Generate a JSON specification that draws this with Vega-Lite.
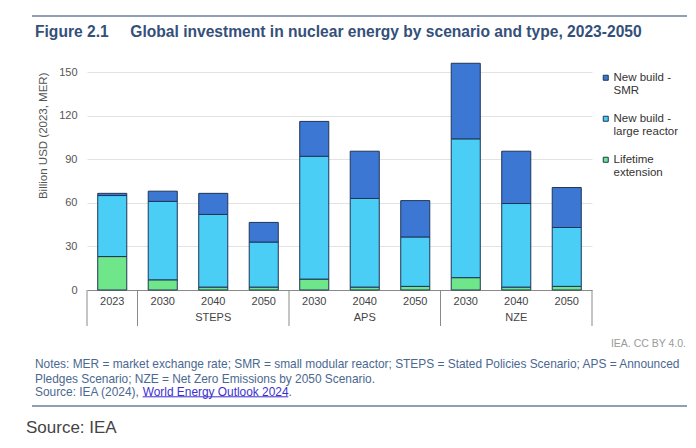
{
  "$schema": "https://vega.github.io/schema/vega-lite/v6.json",
  "autosize": {"type": "none"},
  "width": 505,
  "height": 218,
  "padding": {"left": 87, "right": 104, "top": 72, "bottom": 158},
  "background": "white",
  "config": {
    "font": "Liberation Sans",
    "view": {"stroke": null},
    "legend": {"labelFont": "Liberation Sans"}
  },
  "datasets": {
    "one": [{}],
    "invest": [
      {"cat": "2023", "scenario": "", "year": "2023", "type": "Lifetime extension", "value": 23},
      {"cat": "2023", "scenario": "", "year": "2023", "type": "New build - large reactor", "value": 42},
      {"cat": "2023", "scenario": "", "year": "2023", "type": "New build - SMR", "value": 1.5},
      {"cat": "STEPS 2030", "scenario": "STEPS", "year": "2030", "type": "Lifetime extension", "value": 7},
      {"cat": "STEPS 2030", "scenario": "STEPS", "year": "2030", "type": "New build - large reactor", "value": 54},
      {"cat": "STEPS 2030", "scenario": "STEPS", "year": "2030", "type": "New build - SMR", "value": 7},
      {"cat": "STEPS 2040", "scenario": "STEPS", "year": "2040", "type": "Lifetime extension", "value": 2},
      {"cat": "STEPS 2040", "scenario": "STEPS", "year": "2040", "type": "New build - large reactor", "value": 50},
      {"cat": "STEPS 2040", "scenario": "STEPS", "year": "2040", "type": "New build - SMR", "value": 14.5},
      {"cat": "STEPS 2050", "scenario": "STEPS", "year": "2050", "type": "Lifetime extension", "value": 2},
      {"cat": "STEPS 2050", "scenario": "STEPS", "year": "2050", "type": "New build - large reactor", "value": 31},
      {"cat": "STEPS 2050", "scenario": "STEPS", "year": "2050", "type": "New build - SMR", "value": 13.5},
      {"cat": "APS 2030", "scenario": "APS", "year": "2030", "type": "Lifetime extension", "value": 7.5},
      {"cat": "APS 2030", "scenario": "APS", "year": "2030", "type": "New build - large reactor", "value": 84.5},
      {"cat": "APS 2030", "scenario": "APS", "year": "2030", "type": "New build - SMR", "value": 24},
      {"cat": "APS 2040", "scenario": "APS", "year": "2040", "type": "Lifetime extension", "value": 2},
      {"cat": "APS 2040", "scenario": "APS", "year": "2040", "type": "New build - large reactor", "value": 61},
      {"cat": "APS 2040", "scenario": "APS", "year": "2040", "type": "New build - SMR", "value": 32.5},
      {"cat": "APS 2050", "scenario": "APS", "year": "2050", "type": "Lifetime extension", "value": 2.5},
      {"cat": "APS 2050", "scenario": "APS", "year": "2050", "type": "New build - large reactor", "value": 34},
      {"cat": "APS 2050", "scenario": "APS", "year": "2050", "type": "New build - SMR", "value": 25},
      {"cat": "NZE 2030", "scenario": "NZE", "year": "2030", "type": "Lifetime extension", "value": 8.5},
      {"cat": "NZE 2030", "scenario": "NZE", "year": "2030", "type": "New build - large reactor", "value": 95.5},
      {"cat": "NZE 2030", "scenario": "NZE", "year": "2030", "type": "New build - SMR", "value": 52},
      {"cat": "NZE 2040", "scenario": "NZE", "year": "2040", "type": "Lifetime extension", "value": 2},
      {"cat": "NZE 2040", "scenario": "NZE", "year": "2040", "type": "New build - large reactor", "value": 57.5},
      {"cat": "NZE 2040", "scenario": "NZE", "year": "2040", "type": "New build - SMR", "value": 36},
      {"cat": "NZE 2050", "scenario": "NZE", "year": "2050", "type": "Lifetime extension", "value": 2.5},
      {"cat": "NZE 2050", "scenario": "NZE", "year": "2050", "type": "New build - large reactor", "value": 40.5},
      {"cat": "NZE 2050", "scenario": "NZE", "year": "2050", "type": "New build - SMR", "value": 27.5}
    ]
  },
  "data": {"name": "invest"},
  "layer": [
    {
      "transform": [
        {"calculate": "indexof(['Lifetime extension','New build - large reactor','New build - SMR'], datum.type)", "as": "rank"}
      ],
      "mark": {"type": "bar", "width": {"band": 0.575}, "stroke": "#1f3556", "strokeWidth": 1},
      "encoding": {
        "x": {
          "field": "cat", "type": "nominal", "sort": null,
          "scale": {"paddingInner": 0, "paddingOuter": 0},
          "axis": {
            "title": null, "labelAngle": 0, "ticks": false,
            "domainColor": "#8a8a8a", "domainWidth": 1,
            "labelExpr": "substring(datum.label, length(datum.label) - 4)",
            "labelFontSize": 11, "labelColor": "#444444", "labelPadding": 5,
            "labelFont": "Liberation Sans"
          }
        },
        "y": {
          "field": "value", "type": "quantitative", "stack": "zero",
          "scale": {"domain": [0, 150], "nice": false},
          "axis": {
            "title": "Billion USD (2023, MER)", "titleAnchor": "end",
            "titleFontSize": 11.5, "titleFontWeight": "normal", "titleColor": "#555555",
            "titleFont": "Liberation Sans", "titlePadding": 10,
            "values": [0, 30, 60, 90, 120, 150],
            "domain": false, "ticks": false,
            "labelFontSize": 11, "labelColor": "#555555", "labelPadding": 10,
            "labelFont": "Liberation Sans",
            "gridColor": "#e3e3e3", "gridWidth": 1
          }
        },
        "color": {
          "field": "type", "type": "nominal",
          "scale": {
            "domain": ["New build - SMR", "New build - large reactor", "Lifetime extension"],
            "range": ["#3d77d4", "#4acef6", "#70e68b"]
          },
          "legend": {
            "title": null, "orient": "right", "offset": 8, "padding": 0,
            "symbolType": "square", "symbolSize": 25,
            "symbolStrokeColor": "#1f3556", "symbolStrokeWidth": 1,
            "labelFontSize": 11.5, "labelColor": "#333333", "labelLimit": 200,
            "labelBaseline": "middle", "labelOffset": 2, "rowPadding": 15,
            "labelExpr": "datum.label == 'New build - SMR' ? ['New build -', 'SMR'] : datum.label == 'New build - large reactor' ? ['New build -', 'large reactor'] : ['Lifetime', 'extension']"
          }
        },
        "order": {"field": "rank", "type": "quantitative"}
      }
    },
    {
      "transform": [{"filter": "datum.type == 'Lifetime extension' && (datum.year == '2030' || datum.year == '2023')"}],
      "mark": {"type": "rule", "color": "#8a8a8a", "strokeWidth": 1, "y2Offset": 36},
      "encoding": {
        "x": {"field": "cat", "type": "nominal", "sort": null, "bandPosition": 0},
        "y": {"datum": 0},
        "y2": {"datum": 0}
      }
    },
    {
      "transform": [{"filter": "datum.type == 'Lifetime extension' && datum.cat == 'NZE 2050'"}],
      "mark": {"type": "rule", "color": "#8a8a8a", "strokeWidth": 1, "y2Offset": 36},
      "encoding": {
        "x": {"field": "cat", "type": "nominal", "sort": null, "bandPosition": 1},
        "y": {"datum": 0},
        "y2": {"datum": 0}
      }
    },
    {
      "transform": [{"filter": "datum.type == 'Lifetime extension' && datum.year == '2040'"}],
      "mark": {"type": "text", "dy": 28, "fontSize": 11, "color": "#444444", "baseline": "middle", "font": "Liberation Sans"},
      "encoding": {
        "x": {"field": "cat", "type": "nominal", "sort": null},
        "y": {"datum": 0},
        "text": {"field": "scenario"}
      }
    },
    {
      "data": {"name": "one"},
      "mark": {"type": "rule", "color": "#6d7f98", "strokeWidth": 1.6, "yOffset": -56, "xOffset": -55, "x2Offset": 95},
      "encoding": {
        "x": {"datum": "2023", "bandPosition": 0},
        "x2": {"datum": "NZE 2050", "bandPosition": 1},
        "y": {"datum": 150}
      }
    },
    {
      "data": {"name": "one"},
      "mark": {"type": "rule", "color": "#6d7f98", "strokeWidth": 1.6, "yOffset": 116, "xOffset": -55, "x2Offset": 95},
      "encoding": {
        "x": {"datum": "2023", "bandPosition": 0},
        "x2": {"datum": "NZE 2050", "bandPosition": 1},
        "y": {"datum": 0}
      }
    },
    {
      "data": {"name": "one"},
      "mark": {"type": "text", "text": "Figure 2.1\u00a0\u00a0\u00a0\u00a0\u00a0Global investment in nuclear energy by scenario and type, 2023-2050", "align": "left", "baseline": "middle", "dx": -52, "dy": -40.5, "fontSize": 15.6, "fontWeight": "bold", "color": "#34507a", "font": "Liberation Sans"},
      "encoding": {
        "x": {"datum": "2023", "bandPosition": 0},
        "y": {"datum": 150}
      }
    },
    {
      "data": {"name": "one"},
      "mark": {"type": "text", "text": "IEA. CC BY 4.0.", "align": "right", "baseline": "middle", "dx": 94, "dy": 54, "fontSize": 10.5, "color": "#9a9a9a", "font": "Liberation Sans"},
      "encoding": {
        "x": {"datum": "NZE 2050", "bandPosition": 1},
        "y": {"datum": 0}
      }
    },
    {
      "data": {"name": "one"},
      "mark": {"type": "text", "text": ["Notes: MER = market exchange rate; SMR = small modular reactor; STEPS = Stated Policies Scenario; APS = Announced", "Pledges Scenario; NZE = Net Zero Emissions by 2050 Scenario."], "align": "left", "baseline": "middle", "lineHeight": 14.3, "dx": -52, "dy": 74.3, "fontSize": 11.9, "color": "#4a6890", "font": "Liberation Sans"},
      "encoding": {
        "x": {"datum": "2023", "bandPosition": 0},
        "y": {"datum": 0}
      }
    },
    {
      "data": {"name": "one"},
      "mark": {"type": "text", "text": "Source: IEA (2024),", "align": "left", "baseline": "middle", "dx": -52, "dy": 102.3, "fontSize": 11.9, "color": "#4a6890", "font": "Liberation Sans"},
      "encoding": {
        "x": {"datum": "2023", "bandPosition": 0},
        "y": {"datum": 0}
      }
    },
    {
      "data": {"name": "one"},
      "mark": {"type": "text", "text": "World Energy Outlook 2024", "align": "left", "baseline": "middle", "dx": 55.7, "dy": 102.3, "fontSize": 11.9, "color": "#3b30d2", "font": "Liberation Sans"},
      "encoding": {
        "x": {"datum": "2023", "bandPosition": 0},
        "y": {"datum": 0}
      }
    },
    {
      "data": {"name": "one"},
      "mark": {"type": "text", "text": ".", "align": "left", "baseline": "middle", "dx": 201.5, "dy": 102.3, "fontSize": 11.9, "color": "#4a6890", "font": "Liberation Sans"},
      "encoding": {
        "x": {"datum": "2023", "bandPosition": 0},
        "y": {"datum": 0}
      }
    },
    {
      "data": {"name": "one"},
      "mark": {"type": "rule", "color": "#3b30d2", "strokeWidth": 1, "yOffset": 106.8, "xOffset": 55.7, "x2Offset": 201.3},
      "encoding": {
        "x": {"datum": "2023", "bandPosition": 0},
        "x2": {"datum": "2023", "bandPosition": 0},
        "y": {"datum": 0}
      }
    },
    {
      "data": {"name": "one"},
      "mark": {"type": "text", "text": "Source: IEA", "align": "left", "baseline": "middle", "dx": -61, "dy": 138.3, "fontSize": 17, "color": "#444444", "font": "Liberation Sans"},
      "encoding": {
        "x": {"datum": "2023", "bandPosition": 0},
        "y": {"datum": 0}
      }
    }
  ]
}
